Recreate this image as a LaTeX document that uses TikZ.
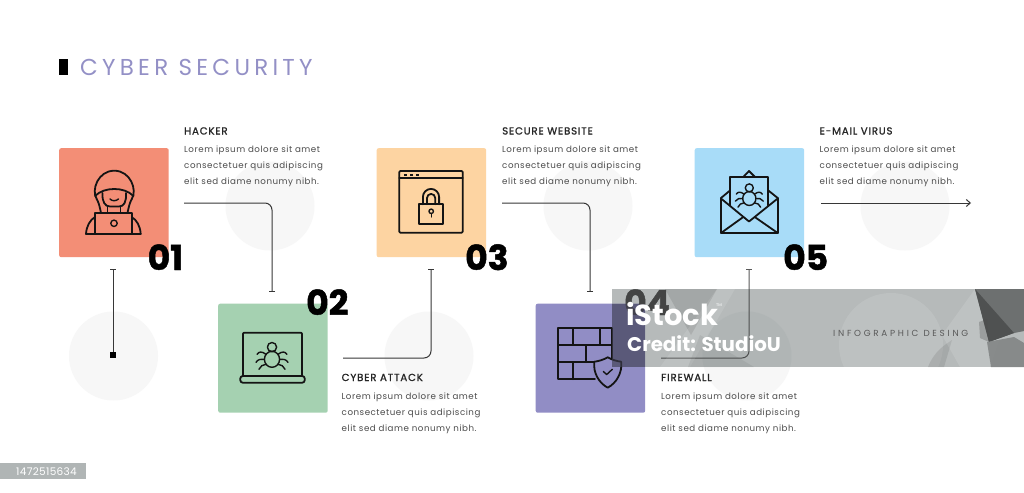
\documentclass[tikz,border=0pt]{standalone}
\usepackage{fontspec}
\usetikzlibrary{arrows.meta,shapes.geometric}
\setmainfont{Poppins}
\newfontfamily\titlef[LetterSpace=18.5]{Poppins}
\newfontfamily\bodyf[LetterSpace=6]{Poppins}
\newfontfamily\headf[LetterSpace=8,FakeBold=1.2]{Poppins}
\newfontfamily\numf[BoldFeatures={FakeBold=1.4}]{Poppins}
\newfontfamily\infof[LetterSpace=31]{Poppins}
\newfontfamily\idf[LetterSpace=3]{Poppins}
\definecolor{cSalmon}{HTML}{F38E76}
\definecolor{cGreen}{HTML}{A5D1B1}
\definecolor{cPeach}{HTML}{FDD4A2}
\definecolor{cPurple}{HTML}{918DC5}
\definecolor{cBlue}{HTML}{A8DCF8}
\definecolor{cCirc}{HTML}{F7F7F7}
\definecolor{cTitle}{HTML}{9390C6}
\definecolor{cInk}{HTML}{141414}
\definecolor{cBand}{HTML}{B0B5B5}
\tikzset{
  card/.style={fill=#1,rounded corners=2pt,minimum width=109.5pt,minimum height=109pt,inner sep=0,anchor=north west},
  disc/.style={fill=cCirc,circle,minimum size=89pt,inner sep=0},
  icon/.style={draw=cInk,line width=1.8pt,line join=round,line cap=round},
  thin icon/.style={icon,line width=1.4pt},
  link/.style={draw=cInk!85,line width=1pt,rounded corners=7pt},
  teed/.style={link,-{Bar[width=6pt,line width=.9pt]}},
  headtxt/.style={anchor=base west,inner sep=0,font=\headf\fontsize{10.2}{10}\selectfont,text=black!85},
  bodytxt/.style={anchor=base west,inner sep=0,font=\bodyf\fontsize{8.7}{10}\selectfont,text=black!70},
  numtxt/.style={anchor=base west,inner sep=0,font=\numf\bfseries\fontsize{34.5}{35}\selectfont,text=black},
  bugpic/.pic={
    \draw[thin icon] (0,0) ellipse (7.6 and 8);
    \draw[thin icon] (0,-12.2) circle (4.6);
    \draw[thin icon] (-6,-5) .. controls (-10,-8) and (-13,-8) .. (-15,-5);
    \draw[thin icon] (6,-5) .. controls (10,-8) and (13,-8) .. (15,-5);
    \draw[thin icon] (-7.6,0) .. controls (-11,-.5) and (-14,0) .. (-16,3);
    \draw[thin icon] (7.6,0) .. controls (11,-.5) and (14,0) .. (16,3);
    \draw[thin icon] (-6,5) .. controls (-9,5) and (-12,7) .. (-13,10);
    \draw[thin icon] (6,5) .. controls (9,5) and (12,7) .. (13,10);
  }
}
\newcommand{\lorem}[3]{%
  \node[bodytxt] (#3a) at (#1,#2) {Lorem ipsum dolore sit amet};
  \node[bodytxt] (#3b) at (#1,#2+16) {consectetuer quis adipiscing};
  \node[bodytxt] (#3c) at (#1,#2+32) {elit sed diame nonumy nibh.};
}
\begin{document}
\begin{tikzpicture}[x=1pt,y=-1pt]
\useasboundingbox (0,0) rectangle (1024,492);
\fill[white] (0,0) rectangle (1024,492);

% title
\fill[black] (59,59) rectangle (67.5,75.5);
\node[anchor=base west,inner sep=0,font=\titlef\fontsize{23}{24}\selectfont,text=cTitle] (title) at (80,75.5) {CYBER SECURITY};

% discs
\node[disc] (d1) at (113.5,356) {};
\node[disc] (d2) at (270,206) {};
\node[disc] (d3) at (429,356) {};
\node[disc] (d4) at (588,206) {};
\node[disc] (d5) at (747,356) {};
\node[disc] (d6) at (905,206) {};

% cards
\node[card=cSalmon] (c1) at (59,148) {};
\node[card=cGreen]  (c2) at (218,303.5) {};
\node[card=cPeach]  (c3) at (376.5,148) {};
\node[card=cPurple] (c4) at (535.5,303.5) {};
\node[card=cBlue]   (c5) at (694.5,148) {};

% numbers
\node[numtxt] (n1) at (147.5,270) {01};
\node[numtxt] (n2) at (306,315) {02};
\node[numtxt] (n3) at (465,270) {03};
\node[numtxt,text=black!70] (n4) at (624,315) {04};
\node[numtxt] (n5) at (783,270) {05};

% connectors
\coordinate (a1) at (113,269);
\node[fill=black,minimum size=6pt,inner sep=0] (a1e) at (113,355) {};
\draw[link,{Bar[width=6pt,line width=.9pt]}-] (a1) -- (a1e);
\coordinate (b0) at (184,203); \coordinate (b1) at (272,203); \coordinate (b2) at (272,292);
\draw[teed] (b0) -- (b1) -- (b2);
\coordinate (e0) at (343,358); \coordinate (e1) at (431,358); \coordinate (e2) at (431,269);
\draw[teed] (e0) -- (e1) -- (e2);
\coordinate (f0) at (502,203); \coordinate (f1) at (590,203); \coordinate (f2) at (590,292);
\draw[teed] (f0) -- (f1) -- (f2);
\coordinate (g0) at (661,358); \coordinate (g1) at (749,358); \coordinate (g2) at (749,269);
\draw[teed,draw=black!65] (g0) -- (g1) -- (g2);
\coordinate (h0) at (821,203); \coordinate (h1) at (971,203);
\draw[link,-{Straight Barb[length=4pt,width=7pt]}] (h0) -- (h1);

% labels
\node[headtxt] (t1) at (184,134.5) {HACKER};
\lorem{184}{152.7}{l1}
\node[headtxt] (t2) at (341.5,381) {CYBER ATTACK};
\lorem{341.5}{399.3}{l2}
\node[headtxt] (t3) at (502,134.5) {SECURE WEBSITE};
\lorem{502}{152.7}{l3}
\node[headtxt] (t4) at (661,381) {FIREWALL};
\lorem{661}{399.3}{l4}
\node[headtxt] (t5) at (819.5,134.5) {E-MAIL VIRUS};
\lorem{819.5}{152.7}{l5}

% icon 1: hacker
\draw[icon] (96.7,199) .. controls (91,190) and (98,170.7) .. (114.3,170.7) .. controls (130.5,170.7) and (137.5,190) .. (131.8,199);
\draw[icon] (96.7,199) .. controls (99,203) and (100,208) .. (101,213);
\draw[icon] (131.8,199) .. controls (129.5,203) and (128.5,208) .. (127.5,213);
\draw[icon] (95,196) .. controls (100,191) and (107,189) .. (114.3,189) .. controls (121.5,189) and (128.5,191) .. (133.5,196);
\draw[icon] (102.5,193) .. controls (102,202) and (105,206.5) .. (110,206.5) -- (119,206.5) .. controls (124,206.5) and (126.5,202) .. (126,193);
\draw[icon] (107.5,206.5) -- (107.5,213);
\draw[icon] (120.5,206.5) -- (120.5,213);
\draw[icon] (95,213.3) rectangle (131.7,234);
\draw[icon] (86,234) -- (140.7,234);
\draw[icon] (86,234) .. controls (86.5,226) and (90,220) .. (95,217);
\draw[icon] (140.7,234) .. controls (140.2,226) and (136.7,220) .. (131.7,217);
\draw[thin icon] (114,223.3) circle (3.2);
\draw[thin icon] (110,199) .. controls (112,201.3) and (116,201.3) .. (118.5,199);

% icon 2: laptop with bug
\draw[icon,rounded corners=1pt] (243,376) -- (243,332.7) -- (302,332.7) -- (302,376);
\draw[icon,rounded corners=2.5pt] (240.3,376) -- (304.7,376) -- (304.7,382.7) -- (240.3,382.7) -- cycle;
\pic at (272,359.3) {bugpic};

% icon 3: browser with lock
\draw[icon,rounded corners=1pt] (399.3,171) rectangle (462.7,232.7);
\draw[icon] (399.3,178.3) -- (462.7,178.3);
\draw[icon,dash pattern=on 3.4pt off 2.6pt,line cap=butt] (404,174.7) -- (419.5,174.7);
\draw[icon] (419.3,204.3) rectangle (442.7,223.7);
\draw[icon] (422.9,204.3) -- (422.9,197) arc[start angle=180,end angle=360,radius=8.1] -- (439.1,204.3);
\draw[icon] (427,204.3) -- (427,198) arc[start angle=180,end angle=360,radius=4.1] -- (435.2,204.3);
\draw[thin icon] (431.2,211.3) circle (2.2);
\draw[thin icon] (431.2,213.5) -- (431.2,217);

% icon 4: firewall with shield
\draw[icon] (595,379.3) -- (558.3,379.3) -- (558.3,328.3) -- (612.3,328.3) -- (612.3,360);
\draw[icon] (558.3,345) -- (612.3,345);
\draw[icon] (558.3,362.3) -- (596,362.3);
\draw[icon] (572.7,328.3) -- (572.7,345);
\draw[icon] (600,328.3) -- (600,345);
\draw[icon] (586,345) -- (586,362.3);
\draw[icon] (572.7,362.3) -- (572.7,379.3);
\draw[icon,fill=cPurple] (607.7,357.3) .. controls (603,360) and (598,361.3) .. (594.3,361.7) .. controls (593,373) and (599,383) .. (607.7,387.7) .. controls (616.4,383) and (622.4,373) .. (621.2,361.7) .. controls (617.4,361.3) and (612.4,360) .. (607.7,357.3) -- cycle;
\draw[thin icon] (603.3,371.5) -- (606.7,374.5) -- (612.3,369.3);

% icon 5: envelope
\draw[icon] (721,198) -- (721,233) -- (777.7,233) -- (777.7,198);
\draw[icon] (721,198.5) -- (749,221.5) -- (777.7,198.5);
\draw[icon] (721,233) -- (743,217.2);
\draw[icon] (777.7,233) -- (755,217.2);
\draw[icon] (721,198) -- (730,190.5);
\draw[icon] (777.7,198) -- (768.3,190.5);
\draw[icon] (730,205.5) -- (730,177) -- (768.3,177) -- (768.3,205.5);
\draw[icon] (743.3,177) -- (749,171) -- (755,177);
\pic[scale=.87] at (749.3,198.5) {bugpic};

% watermark band
\fill[cBand,blend mode=multiply] (612,289) rectangle (1024,367);
\fill[white,opacity=.08] (612,289) rectangle (1024,367);
\fill[black!55!cPurple,opacity=.45] (612,303.5) rectangle (645,367);
\begin{scope}
\clip (612,289) rectangle (1024,367);
\fill[black!60!cBand,opacity=.16] (665,289) -- (717,289) -- (691,335) -- cycle;
\fill[white,opacity=.10] (717,289) -- (735,289) -- (690,367) -- (660,367) -- cycle;
\fill[black!50!cBand,opacity=.12] (688,367) -- (700,335) -- (754,367) -- cycle;
\fill[white,opacity=.10] (891,345) circle (52);
\fill[black!60!cBand,opacity=.15] (928,367) .. controls (935,350) and (945,345) .. (952,340) -- (944,367) -- cycle;
\fill[white,opacity=.12] (975,289) -- (942,335) -- (960,367) -- (990,367) -- (1000,338) -- cycle;
\fill[black!38!cBand] (975,289) -- (1024,289) -- (1024,331) -- (1014,333) -- (989,342) -- cycle;
\fill[black!55!cBand] (975,289) -- (1014,333) -- (989,342) -- cycle;
\fill[black!70,opacity=.3] (979,322) -- (987,319) -- (989,342) -- (980,338) -- cycle;
\fill[black!28!cBand,opacity=.85] (1014,337) -- (1024,343) -- (1024,367) -- (991,367) -- (987,342) -- cycle;
\end{scope}
\node[anchor=base west,inner sep=0,font=\infof\fontsize{8.8}{10}\selectfont,text=black!65] (info) at (833,336.5) {INFOGRAPHIC DESING};
\node[anchor=base west,inner sep=0,font=\bfseries\fontsize{29}{32}\selectfont,text=white] (is) at (626,325.5) {iStock};
\node[anchor=base west,inner sep=0,font=\fontsize{4}{5}\selectfont,text=white] (tm) at (716,306) {TM};
\node[anchor=base west,inner sep=0,font=\bfseries\fontsize{19.8}{20}\selectfont,text=white] (cr) at (627,351.5) {Credit: StudioU};

% footer id
\node[fill=cBand,anchor=north west,minimum width=86pt,minimum height=16pt,inner sep=0] (idb) at (0,463) {};
\node[anchor=base,inner sep=0,font=\idf\fontsize{10.5}{12}\selectfont,text=white] (idt) at (46.5,475) {1472515634};
\end{tikzpicture}
\end{document}
